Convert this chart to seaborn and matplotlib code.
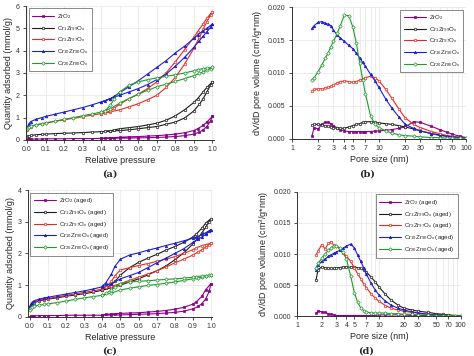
import numpy as np
import pandas as pd
import matplotlib.pyplot as plt
import seaborn as sns

sns.set_style("ticks")
plt.rcParams['font.family'] = ['Liberation Sans', 'DejaVu Sans']

# isotherm pressures
p_ads = [0.0, 0.005, 0.01, 0.02, 0.05, 0.08, 0.1, 0.15, 0.2, 0.25, 0.3, 0.35, 0.4, 0.45,
         0.5, 0.55, 0.6, 0.65, 0.7, 0.75, 0.8, 0.85, 0.9, 0.93, 0.95, 0.97, 0.99, 1.0]
p_des = [1.0, 0.97, 0.95, 0.92, 0.9, 0.85, 0.8, 0.75, 0.7, 0.65, 0.6, 0.55, 0.5, 0.47, 0.45, 0.42, 0.4]

# (a) fresh
zr_ads = [0.01, 0.02, 0.03, 0.03, 0.04, 0.04, 0.05, 0.05, 0.05, 0.06, 0.06, 0.06, 0.07, 0.07,
          0.08, 0.08, 0.09, 0.1, 0.11, 0.13, 0.15, 0.19, 0.26, 0.35, 0.45, 0.6, 0.85, 1.05]
zr_des = [1.05, 0.8, 0.65, 0.5, 0.42, 0.32, 0.26, 0.22, 0.19, 0.17, 0.15, 0.14, 0.12, 0.1, 0.09, 0.08, 0.07]
cr1_ads = [0.12, 0.16, 0.18, 0.2, 0.23, 0.25, 0.26, 0.28, 0.3, 0.31, 0.33, 0.35, 0.37, 0.39,
           0.42, 0.45, 0.5, 0.55, 0.6, 0.7, 0.8, 0.98, 1.3, 1.6, 1.85, 2.15, 2.45, 2.6]
cr1_des = [2.6, 2.35, 2.15, 1.85, 1.68, 1.35, 1.08, 0.88, 0.75, 0.67, 0.6, 0.55, 0.5, 0.45, 0.41, 0.38, 0.37]
cr3_ads = [0.45, 0.52, 0.56, 0.6, 0.67, 0.72, 0.75, 0.83, 0.9, 0.97, 1.04, 1.11, 1.18, 1.26,
           1.35, 1.48, 1.62, 1.8, 2.0, 2.35, 2.8, 3.4, 4.1, 4.6, 4.95, 5.3, 5.6, 5.75]
cr3_des = [5.75, 5.45, 5.2, 4.85, 4.6, 4.05, 3.5, 3.0, 2.6, 2.3, 2.05, 1.85, 1.6, 1.42, 1.3, 1.2, 1.18]
cr10_ads = [0.5, 0.62, 0.72, 0.82, 0.93, 1.0, 1.05, 1.15, 1.25, 1.35, 1.45, 1.57, 1.7, 1.85,
            2.0, 2.15, 2.3, 2.48, 2.7, 2.95, 3.3, 3.7, 4.15, 4.45, 4.65, 4.85, 5.05, 5.2]
cr10_des = [5.2, 5.0, 4.9, 4.7, 4.55, 4.2, 3.9, 3.55, 3.25, 2.95, 2.65, 2.38, 2.12, 1.95, 1.85, 1.75, 1.7]
cr20_ads = [0.48, 0.55, 0.58, 0.62, 0.68, 0.73, 0.76, 0.84, 0.92, 1.0, 1.08, 1.16, 1.25, 1.4,
            1.65, 1.85, 2.05, 2.22, 2.38, 2.5, 2.62, 2.75, 2.88, 2.98, 3.05, 3.12, 3.2, 3.25]
cr20_des = [3.25, 3.22, 3.2, 3.15, 3.1, 3.0, 2.92, 2.85, 2.78, 2.7, 2.6, 2.45, 2.15, 1.85, 1.55, 1.3, 1.25]

# (c) aged
zra_ads = [0.01, 0.02, 0.03, 0.03, 0.04, 0.04, 0.04, 0.04, 0.05, 0.05, 0.05, 0.05, 0.05, 0.06,
           0.06, 0.07, 0.08, 0.09, 0.1, 0.12, 0.14, 0.18, 0.25, 0.33, 0.42, 0.56, 0.8, 1.05]
zra_des = [1.05, 0.85, 0.65, 0.48, 0.4, 0.3, 0.24, 0.2, 0.17, 0.15, 0.13, 0.12, 0.11, 0.1, 0.09, 0.08, 0.07]
cr1a_ads = [0.3, 0.36, 0.4, 0.44, 0.5, 0.54, 0.56, 0.6, 0.65, 0.69, 0.73, 0.78, 0.84, 0.92,
            1.0, 1.1, 1.2, 1.32, 1.45, 1.6, 1.8, 2.02, 2.3, 2.5, 2.65, 2.82, 3.0, 3.1]
cr1a_des = [3.1, 2.95, 2.8, 2.62, 2.52, 2.35, 2.22, 2.1, 1.97, 1.85, 1.72, 1.55, 1.32, 1.12, 1.02, 0.9, 0.85]
cr3a_ads = [0.32, 0.38, 0.42, 0.46, 0.52, 0.56, 0.58, 0.63, 0.68, 0.72, 0.77, 0.82, 0.88, 0.96,
            1.05, 1.15, 1.25, 1.35, 1.45, 1.57, 1.7, 1.82, 1.95, 2.05, 2.12, 2.2, 2.28, 2.32]
cr3a_des = [2.32, 2.28, 2.25, 2.18, 2.12, 2.0, 1.9, 1.82, 1.75, 1.68, 1.62, 1.55, 1.48, 1.3, 1.12, 0.95, 0.9]
cr10a_ads = [0.33, 0.4, 0.45, 0.5, 0.56, 0.6, 0.62, 0.67, 0.72, 0.77, 0.82, 0.88, 0.95, 1.05,
             1.2, 1.3, 1.4, 1.55, 1.7, 1.85, 2.0, 2.15, 2.35, 2.45, 2.52, 2.6, 2.7, 2.75]
cr10a_des = [2.75, 2.65, 2.6, 2.52, 2.48, 2.4, 2.32, 2.25, 2.17, 2.1, 2.02, 1.95, 1.82, 1.6, 1.35, 1.08, 0.97]
cr20a_ads = [0.22, 0.27, 0.3, 0.33, 0.37, 0.39, 0.41, 0.45, 0.5, 0.55, 0.6, 0.64, 0.68, 0.75,
             0.85, 0.9, 0.95, 0.99, 1.02, 1.06, 1.1, 1.15, 1.2, 1.23, 1.25, 1.28, 1.31, 1.32]
cr20a_des = [1.32, 1.3, 1.29, 1.27, 1.25, 1.22, 1.2, 1.18, 1.16, 1.14, 1.12, 1.1, 1.05, 0.95, 0.85, 0.74, 0.68]

# pore size distributions
pore = [1.7, 1.8, 2.0, 2.2, 2.4, 2.6, 2.8, 3.0, 3.3, 3.6, 4.0, 4.5, 5.0, 5.5, 6.0, 6.5,
        7.0, 8.0, 9.0, 10, 12, 14, 17, 20, 25, 30, 40, 50, 60, 70, 85, 100]
# (b)
zr_psd = [0.0005, 0.0017, 0.0015, 0.0022, 0.0025, 0.0025, 0.0023, 0.002, 0.0017, 0.0014, 0.0012, 0.0011,
          0.0011, 0.0011, 0.0011, 0.0011, 0.0011, 0.0011, 0.0012, 0.0012, 0.0013, 0.0014, 0.0016, 0.0018,
          0.0026, 0.0025, 0.0019, 0.0014, 0.001, 0.0007, 0.0004, 0.0002]
cr1_psd = [0.0021, 0.0022, 0.0022, 0.0021, 0.002, 0.0019, 0.0018, 0.0017, 0.0016, 0.0016, 0.0016, 0.0018,
           0.002, 0.0022, 0.0023, 0.0025, 0.0026, 0.0026, 0.0025, 0.0024, 0.0023, 0.0022, 0.002, 0.0018,
           0.0015, 0.0012, 0.0008, 0.0006, 0.0004, 0.0003, 0.0002, 0.0001]
cr3_psd = [0.0073, 0.0075, 0.0076, 0.0076, 0.0077, 0.0078, 0.008, 0.0082, 0.0085, 0.0087, 0.0088, 0.0087,
           0.0086, 0.0087, 0.0089, 0.0091, 0.0093, 0.0095, 0.0093, 0.0088, 0.0075, 0.0062, 0.0045, 0.0032,
           0.0022, 0.0017, 0.0011, 0.0008, 0.0005, 0.0004, 0.0002, 0.0001]
cr10_psd = [0.0168, 0.0172, 0.0177, 0.0178, 0.0176, 0.0174, 0.0172, 0.0165, 0.0158, 0.0153, 0.0148, 0.0142,
            0.0137, 0.013, 0.0123, 0.0116, 0.011, 0.0098, 0.0088, 0.0078, 0.006, 0.0047, 0.0033, 0.0022,
            0.0016, 0.0012, 0.0008, 0.0005, 0.0004, 0.0003, 0.0002, 0.0001]
cr20_psd = [0.009, 0.0093, 0.0102, 0.0112, 0.0122, 0.013, 0.014, 0.0148, 0.016, 0.0172, 0.0188, 0.0187,
            0.017, 0.0145, 0.0115, 0.009, 0.0068, 0.0035, 0.0022, 0.0017, 0.0012, 0.0009, 0.0006, 0.0005,
            0.0004, 0.0003, 0.0002, 0.0002, 0.0001, 0.0001, 0.0001, 0.0001]
# (d)
zra_psd = [0.0005, 0.0008, 0.0007, 0.0006, 0.0004, 0.0003, 0.0002, 0.0001, 0.0001, 0.0001, 0.0001, 0.0001,
           0.0001, 0.0001, 0.0001, 0.0001, 0.0001, 0.0001, 0.0001, 0.0002, 0.0002, 0.0002, 0.0002, 0.0002,
           0.0001, 0.0001, 0.0001, 0.0001, 0.0001, 0.0, 0.0, 0.0]
cr1a_psd = [0.0058, 0.0075, 0.0079, 0.0078, 0.0077, 0.0077, 0.0077, 0.0078, 0.0078, 0.0079, 0.0079, 0.0079,
            0.0079, 0.0078, 0.0077, 0.0074, 0.0071, 0.0063, 0.0055, 0.0047, 0.0035, 0.0026, 0.0018, 0.0013,
            0.001, 0.0008, 0.0006, 0.0004, 0.0003, 0.0002, 0.0001, 0.0001]
cr3a_psd = [0.0098, 0.0105, 0.0115, 0.0108, 0.0117, 0.012, 0.0114, 0.0113, 0.0108, 0.0102, 0.0097, 0.0088,
            0.0078, 0.0068, 0.006, 0.0052, 0.0046, 0.0036, 0.0029, 0.0024, 0.0017, 0.0013, 0.001, 0.0008,
            0.0006, 0.0005, 0.0003, 0.0002, 0.0002, 0.0001, 0.0001, 0.0001]
cr10a_psd = [0.0075, 0.0082, 0.0088, 0.0092, 0.0096, 0.0099, 0.0101, 0.0103, 0.0106, 0.0109, 0.0113, 0.0116,
             0.011, 0.0098, 0.0088, 0.0078, 0.0068, 0.0053, 0.0042, 0.0034, 0.0024, 0.0018, 0.0013, 0.001,
             0.0007, 0.0005, 0.0003, 0.0002, 0.0002, 0.0001, 0.0001, 0.0001]
cr20a_psd = [0.0078, 0.0085, 0.0093, 0.01, 0.0106, 0.011, 0.0113, 0.0113, 0.011, 0.0103, 0.0092, 0.0065,
             0.0038, 0.0022, 0.0013, 0.0009, 0.0007, 0.0005, 0.0005, 0.0005, 0.0005, 0.0004, 0.0004, 0.0003,
             0.0003, 0.0002, 0.0002, 0.0001, 0.0001, 0.0001, 0.0001, 0.0]

names = ['ZrO$_\\mathregular{2}$',
         'Cr$_\\mathregular{1}$Zr$_\\mathregular{99}$O$_\\mathregular{x}$',
         'Cr$_\\mathregular{3}$Zr$_\\mathregular{97}$O$_\\mathregular{x}$',
         'Cr$_\\mathregular{10}$Zr$_\\mathregular{90}$O$_\\mathregular{x}$',
         'Cr$_\\mathregular{20}$Zr$_\\mathregular{80}$O$_\\mathregular{x}$']
colors = ['#8b008b', '#1a1a1a', '#e8281e', '#1f1fd0', '#1f9a2a']
markers = ['s', 'o', 'o', '^', 'D']
faces = ['full', 'none', 'none', 'full', 'none']


def draw(ax, x, y, i, label):
    d = pd.DataFrame({'x': x, 'y': y})
    mfc = colors[i] if faces[i] == 'full' else 'white'
    sns.lineplot(data=d, x='x', y='y', sort=False, estimator=None, ax=ax, color=colors[i],
                 marker=markers[i], markersize=1.8, markerfacecolor=mfc, markeredgecolor=colors[i],
                 markeredgewidth=0.5, linewidth=0.8, label=label)


def style(ax, xlabel, ylabel, loc, log=False):
    ax.grid(True, which='both' if log else 'major', color='#e4e4e4', linewidth=0.5)
    ax.set_axisbelow(True)
    sns.despine(ax=ax)
    for s in ['left', 'bottom']:
        ax.spines[s].set_color('#333333')
        ax.spines[s].set_linewidth(0.7)
    ax.tick_params(labelsize=5, length=2.5, width=0.6, pad=2, colors='#333333')
    ax.tick_params(which='minor', length=0)
    ax.set_xlabel(xlabel, fontsize=6.5, labelpad=2)
    ax.set_ylabel(ylabel, fontsize=6.5, labelpad=2)
    leg = ax.legend(loc=loc, fontsize=4.4, frameon=True, fancybox=False, handlelength=3.6,
                    labelspacing=0.45, borderpad=0.6, handletextpad=0.5, borderaxespad=0.4)
    leg.get_frame().set_edgecolor('#555555')
    leg.get_frame().set_linewidth(0.6)


fig = plt.figure(figsize=(4.74, 3.56), dpi=100)
axA = fig.add_axes([0.055, 0.607, 0.397, 0.376])
axB = fig.add_axes([0.616, 0.610, 0.367, 0.370])
axC = fig.add_axes([0.059, 0.110, 0.388, 0.356])
axD = fig.add_axes([0.627, 0.112, 0.345, 0.349])

fresh = [(zr_ads, zr_des), (cr1_ads, cr1_des), (cr3_ads, cr3_des), (cr10_ads, cr10_des), (cr20_ads, cr20_des)]
aged = [(zra_ads, zra_des), (cr1a_ads, cr1a_des), (cr3a_ads, cr3a_des), (cr10a_ads, cr10a_des), (cr20a_ads, cr20a_des)]
psd_b = [zr_psd, cr1_psd, cr3_psd, cr10_psd, cr20_psd]
psd_d = [zra_psd, cr1a_psd, cr3a_psd, cr10a_psd, cr20a_psd]

for i in range(5):
    draw(axA, p_ads + p_des, fresh[i][0] + fresh[i][1], i, names[i])
    draw(axC, p_ads + p_des, aged[i][0] + aged[i][1], i, names[i] + ' (aged)')
    draw(axB, pore, psd_b[i], i, names[i])
    draw(axD, pore, psd_d[i], i, names[i] + ' (aged)')

for ax, xl in [(axA, (-0.005, 1.01)), (axC, (-0.011, 1.005))]:
    ax.set_xlim(*xl)
    ax.set_xticks(np.arange(0, 1.01, 0.1))
    ax.set_xticklabels(['%.1f' % v for v in np.arange(0, 1.01, 0.1)])
axA.set_ylim(0, 6)
axC.set_ylim(0, 4)
axA.set_yticks(range(0, 7))
axC.set_yticks(range(0, 5))

ticks = [1, 2, 3, 4, 5, 7, 10, 20, 30, 50, 70, 100]
for ax in [axB, axD]:
    ax.set_xscale('log')
    ax.set_xlim(1, 100)
    ax.set_ylim(0, 0.02)
    ax.set_xticks(ticks)
    ax.set_xticklabels([str(t) for t in ticks])
    ax.set_yticks([0, 0.005, 0.01, 0.015, 0.02])
    ax.set_yticklabels(['0.000', '0.005', '0.010', '0.015', '0.020'])

style(axA, 'Relative pressure', 'Quantity adsorbed (mmol/g)', 'upper left')
style(axC, 'Relative pressure', 'Quantity adsorbed (mmol/g)', 'upper left')
style(axB, 'Pore size (nm)', 'dV/dD pore volume (cm$^\\mathregular{3}$/g*nm)', 'upper right', log=True)
style(axD, 'Pore size (nm)', 'dV/dD pore volume (cm$^\\mathregular{3}$/g*nm)', 'upper right', log=True)

for x, y, t in [(0.232, 0.51, '(a)'), (0.774, 0.51, '(b)'), (0.232, 0.014, '(c)'), (0.772, 0.014, '(d)')]:
    fig.text(x, y, t, ha='center', va='center', fontsize=7, fontweight='bold', family='DejaVu Serif')

fig.savefig('out.png', dpi=100)
